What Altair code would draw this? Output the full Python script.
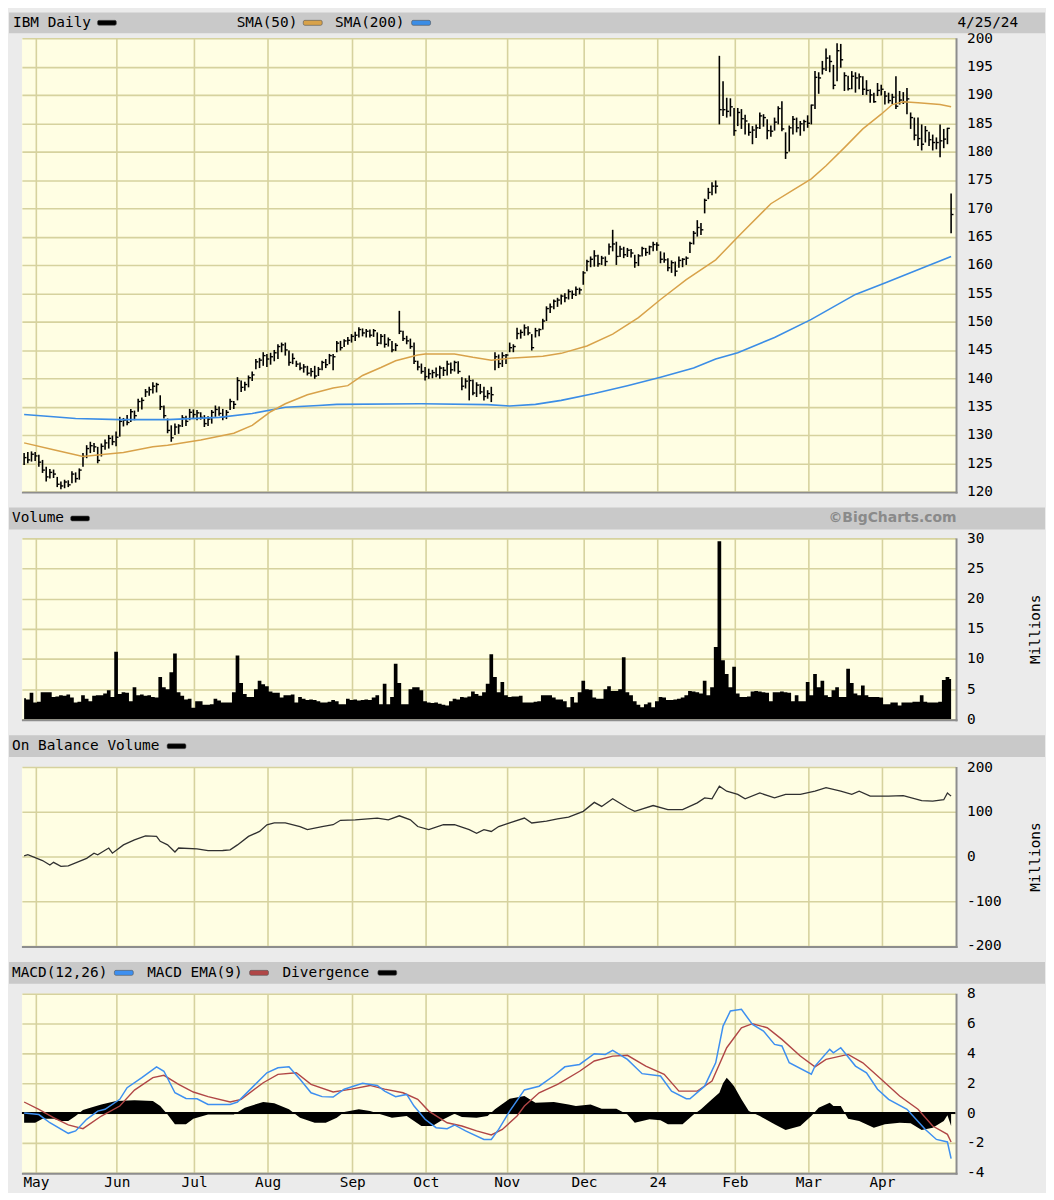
import altair as alt
import pandas as pd

# ------------------------------------------------------------------ data
month_start = [4, 26, 47, 67, 90, 110, 132, 153, 173, 194, 214, 234]
month_names = ["May", "Jun", "Jul", "Aug", "Sep", "Oct", "Nov", "Dec", "24", "Feb", "Mar", "Apr"]

high = [126.8,127.0,127.1,127.0,126.5,125.6,124.4,124.0,123.9,122.6,121.8,122.1,122.0,123.6,123.4,124.1,126.8,128.2,128.8,128.6,127.9,128.5,129.2,130.0,129.9,130.6,
        133.2,133.0,133.5,134.6,134.3,136.4,136.6,138.1,138.5,139.3,139.2,137.0,135.2,132.9,131.7,132.0,131.9,133.5,133.4,134.6,134.5,
        134.4,134.0,133.5,133.3,134.4,135.2,135.0,134.6,134.4,136.4,136.0,140.2,139.6,139.4,140.5,141.2,143.4,143.6,144.6,144.3,
        144.5,145.0,146.0,146.3,146.3,144.9,144.4,143.1,142.8,142.5,142.2,141.8,142.2,142.0,143.1,143.4,144.3,144.3,146.6,146.6,146.9,147.3,147.8,
        148.2,149.0,148.8,148.7,148.6,148.7,148.1,147.8,147.8,147.2,146.6,146.2,151.9,148.4,147.5,147.0,146.3,143.1,142.6,142.0,
        141.7,141.5,141.9,142.2,142.0,143.1,142.8,143.1,143.0,140.2,140.0,140.5,139.8,139.3,139.0,138.5,137.9,138.5,144.6,144.2,144.6,144.3,
        146.3,146.0,148.9,148.6,149.5,149.2,147.8,148.9,148.8,150.5,152.7,153.2,153.9,154.2,154.8,155.0,155.7,155.5,156.2,156.0,158.9,
        160.9,161.5,162.6,161.8,161.6,161.5,163.8,166.2,164.1,163.4,163.2,163.0,162.8,161.8,161.9,163.2,163.0,163.4,164.1,164.0,
        162.4,162.2,161.2,160.8,160.6,161.5,161.2,161.5,164.1,166.0,167.9,167.4,171.7,173.6,174.6,174.9,196.9,192.4,189.5,189.4,187.7,
        187.7,187.5,186.5,185.0,184.5,184.8,186.9,186.6,185.7,184.6,186.0,188.0,188.9,183.4,184.6,186.3,186.0,185.4,185.6,186.4,
        188.3,194.2,194.0,196.0,198.2,197.0,195.3,199.1,199.0,194.0,193.4,194.2,194.0,193.8,193.3,192.6,191.0,190.4,192.1,191.8,
        190.7,190.4,190.2,193.3,190.7,190.5,191.2,186.9,186.0,186.0,184.8,184.5,183.5,183.0,182.5,184.8,184.0,184.2,172.6]

low = [124.7,125.0,125.3,125.4,124.4,123.3,121.8,122.3,122.4,120.8,120.4,120.6,120.8,121.5,121.6,122.1,124.4,125.9,126.8,127.0,125.0,126.2,127.4,127.6,128.2,128.0,
       129.7,131.5,131.7,132.3,132.6,134.1,134.5,136.7,136.9,137.3,137.5,134.4,132.9,130.3,128.8,130.0,130.2,131.4,131.6,132.6,132.8,
       132.6,132.7,131.4,131.6,132.0,133.2,133.4,132.6,132.8,134.4,134.6,136.1,137.6,137.8,138.4,139.5,141.6,141.8,142.2,142.0,
       142.4,143.0,143.4,144.6,144.0,142.2,142.5,142.0,141.4,141.0,140.5,140.3,139.9,140.4,141.4,141.8,142.5,141.4,144.6,144.9,145.5,145.9,146.3,
       146.6,147.2,147.4,147.2,147.2,147.3,145.7,146.0,145.4,145.6,144.6,144.8,147.8,146.6,146.0,145.2,142.5,141.4,140.8,139.6,
       139.9,140.0,140.2,139.9,140.4,140.5,140.8,141.2,140.8,137.9,138.2,136.1,137.0,136.7,137.2,136.1,136.4,135.8,141.4,141.8,142.0,142.5,
       144.6,144.6,146.9,147.0,147.5,147.6,144.9,147.2,147.4,148.6,150.1,151.5,152.2,152.6,153.0,153.4,153.9,154.0,154.5,154.8,156.5,
       158.9,159.6,159.7,159.7,160.0,159.8,161.8,162.4,160.0,161.4,161.2,161.4,161.3,159.5,159.8,161.5,161.6,161.8,162.4,162.5,
       160.3,160.4,158.9,158.6,158.0,159.5,159.6,160.0,162.1,163.6,165.0,165.3,169.1,171.6,172.3,172.6,184.8,186.3,186.0,186.2,182.8,
       184.5,184.0,183.0,182.8,181.3,182.4,184.0,184.4,182.2,182.6,183.7,184.8,183.6,178.7,180.0,183.0,183.4,182.8,183.6,184.2,
       184.8,187.5,190.2,193.6,194.2,194.0,191.0,192.4,194.8,190.7,190.8,191.0,190.4,191.0,190.0,190.0,188.6,188.6,189.8,189.9,
       188.3,188.5,188.4,187.5,188.3,188.4,186.6,184.0,182.0,181.0,180.2,181.6,181.0,180.2,180.4,179.0,180.6,181.3,165.6]

close = [126.0,125.6,126.6,126.3,125.2,123.8,122.6,123.4,123.1,121.3,121.0,121.7,121.2,123.1,122.3,123.8,126.2,127.6,128.1,127.9,125.5,128.0,128.6,129.4,128.8,129.6,
         132.4,132.6,132.2,134.1,133.4,135.9,136.1,137.6,138.0,138.6,138.9,135.0,133.4,130.8,129.5,131.4,131.6,133.0,132.4,134.0,133.6,
         133.9,133.1,132.0,132.8,134.0,134.5,133.8,133.2,134.0,135.9,135.4,139.6,138.4,138.9,140.1,140.6,142.9,143.2,144.0,143.4,
         143.8,144.5,145.6,145.9,145.0,142.8,143.5,142.5,141.8,142.0,140.9,141.2,140.4,141.6,142.8,142.4,144.0,143.8,146.2,145.4,146.6,146.7,147.4,
         147.6,148.6,148.0,148.3,147.6,148.4,146.2,147.4,146.0,146.8,145.0,145.8,148.3,147.0,146.6,145.6,143.0,142.0,141.2,140.3,
         140.8,141.0,140.6,141.8,141.4,142.5,141.5,142.8,141.2,138.6,139.5,139.6,137.4,138.8,137.6,136.8,137.3,137.1,143.8,142.6,144.0,144.1,
         145.4,145.6,147.9,148.1,148.9,148.0,145.4,148.4,148.6,150.1,152.3,152.6,153.6,153.8,154.5,154.2,155.3,154.8,155.7,155.6,158.6,
         160.6,161.0,161.6,160.2,161.2,160.6,163.2,163.7,161.5,162.8,161.8,162.6,162.1,160.4,161.6,162.9,162.2,163.2,163.6,163.5,
         161.0,160.9,159.5,160.4,158.9,160.8,161.0,161.2,163.8,165.6,166.6,166.2,171.4,172.8,173.9,173.9,187.4,187.4,187.1,187.9,183.7,
         186.9,185.8,185.4,183.4,183.8,184.2,186.3,186.0,183.7,183.6,185.2,187.6,184.0,179.8,184.2,185.7,184.2,184.9,185.3,185.0,
         188.2,193.1,193.0,194.6,196.5,195.9,191.7,197.8,196.2,193.4,191.1,193.3,193.0,193.2,191.0,190.8,190.0,188.8,190.8,191.0,
         189.8,189.0,189.6,188.0,189.1,188.8,189.3,186.0,182.9,182.3,181.3,183.7,182.1,181.6,181.6,181.9,182.2,184.1,168.9]

volume = [3.5,3.3,4.4,2.8,2.9,4.5,4.5,4.5,3.7,3.8, 4.0,3.9,4.1,3.6,2.8,2.9,4.0,3.4,3.0,3.9,
          4.0,4.0,4.3,4.8,3.7,11.2,4.2,4.5,4.4,3.0, 5.3,4.0,4.1,3.9,4.0,3.7,3.6,7.0,5.3,5.0,
          7.8,10.9,4.5,3.9,3.3,3.4,1.9,3.0,3.0,2.4, 2.4,2.5,3.4,3.1,2.8,2.8,2.8,4.5,10.6,6.0,
          4.2,3.7,3.7,5.0,6.4,5.8,5.5,4.6,4.4,4.4, 3.6,4.0,4.0,4.1,2.8,3.7,3.4,3.2,3.3,3.2,
          3.0,2.8,2.8,2.9,3.2,3.0,2.5,2.5,3.4,3.2, 3.3,3.1,3.2,3.3,3.2,3.6,4.0,2.5,5.9,2.5,
          3.7,9.2,6.0,2.5,2.5,5.0,5.3,5.3,4.8,3.0, 2.8,2.7,2.8,2.6,2.4,2.3,3.0,3.4,3.3,3.7,
          3.6,3.8,4.6,4.2,3.9,4.5,5.9,10.8,7.0,4.5, 6.2,4.0,3.7,3.8,3.8,3.9,
          2.8,2.8,2.8,2.9,3.0,4.0,4.0,4.0,3.6,3.3, 3.3,3.0,2.0,3.7,2.8,4.5,6.4,5.0,4.9,3.6,
          3.4,3.4,5.0,5.5,4.7,4.7,5.0,10.3,4.5,4.0, 3.0,2.4,2.0,2.5,2.8,2.0,3.0,3.7,3.6,3.2,
          3.2,3.3,3.4,3.6,4.0,4.7,4.6,4.5,4.3,6.4, 4.0,5.3,12.0,29.5,9.8,7.5,5.3,8.7,4.3,3.7,
          3.7,3.8,4.6,4.7,4.6,4.5,4.4,3.0,4.5,4.5, 4.6,4.5,4.4,3.0,4.0,3.0,3.0,6.2,4.0,7.5,
          5.3,6.4,4.0,3.7,4.8,5.3,3.7,3.7,8.4,6.0, 4.3,4.0,5.6,4.0,3.7,3.7,3.7,3.6,2.5,2.5,
          2.8,2.8,2.3,2.8,2.8,2.8,2.9,2.9,4.0,2.9, 2.8,2.8,2.8,2.9,6.5,7.0,6.7]

sma50_day = [0, 8, 16, 22, 27, 35, 39, 48, 57, 62, 67, 71, 77, 84, 88, 92, 97, 101, 107, 109, 117, 122, 127,
             133, 141, 146, 153, 160, 167, 173, 180, 188, 195, 203, 209, 214, 218, 223, 228, 233, 236, 239, 243, 249, 252]
sma50 = [128.6, 127.4, 126.2, 126.6, 126.9, 127.9, 128.2, 129.1, 130.3, 131.7, 134.1, 135.5, 137.1, 138.3, 138.7,
         140.5, 141.9, 143.1, 144.1, 144.3, 144.3, 143.7, 143.2, 143.6, 143.9, 144.4, 145.7, 147.8, 150.7, 153.9,
         157.4, 160.9, 165.6, 170.8, 173.2, 175.2, 177.5, 180.7, 184.0, 186.6, 188.3, 188.8, 188.6, 188.3, 187.9]

sma200_day = [0, 8, 14, 26, 39, 53, 62, 71, 80, 85, 108, 126, 132, 139, 146, 155, 164, 173, 182, 188, 194, 204,
              214, 226, 234, 244, 252]
sma200 = [133.6, 133.2, 132.9, 132.7, 132.7, 133.1, 133.8, 134.9, 135.2, 135.4, 135.5, 135.35, 135.1, 135.4, 136.1,
          137.3, 138.7, 140.2, 141.8, 143.4, 144.5, 147.2, 150.4, 154.8, 156.8, 159.4, 161.5]

obv_day = [0,1,5,7,8,10,12,15,17,19, 20,23,24,27,30,33,36,37,39,41, 42,47,50,54,56,58,61,64,66,68,
           71,75,77,81,84,86,90,96,99,102, 105,107,110,114,117,121,123,125,127,129, 132,136,138,142,145,148,152,155,157,160,
           164,166,171,175,179,183,185,187,189,191, 194,196,200,204,207,211,215,218,222,225, 227,230,235,239,244,247,250,251,252]
obv = [1.5,4,-9,-19,-13,-22,-21,-11,-4,7.5, 4,19,7.5,26,37,46,45,34,26,10, 19,17,13,13.5,15,26,45,56,71,75,
       75,67,60,67,71,81,82,86,82,91, 82,67,60,71,71,60,52,60,56,67, 75,86,75,79,84,88,101,121,112,129,
       109,101,114,105,105,120,131,129,157,146, 139,129,142,131,139,139,146,154,146,139, 146,135,135,136,125,124,127,142,135]

macd_day = [0,4,7,12,14,17,20,22,26,28, 32,36,38,41,44,47,50,56,58,61, 66,69,72,75,78,81,84,87,92,96,
            98,101,104,106,109,112,115,117,120,125, 127,129,132,136,140,144,147,151,155,158, 160,164,168,173,176,180,181,185,188,190,
            192,195,198,201,204,206,208,214,215,219, 220,222,226,229,232,235,240,245,248,251, 252]
macd = [0.0,-0.1,-0.65,-1.36,-1.2,-0.42,0.13,0.25,0.92,1.7, 2.37,3.1,2.8,1.36,0.98,0.96,0.58,0.58,0.74,1.47,
        2.7,3.04,3.1,2.26,1.36,1.1,1.07,1.6,2.0,1.85, 1.47,1.1,1.25,0.47,-0.42,-0.98,-1.05,-0.8,-1.2,-1.77,
        -1.77,-1.1,0.13,1.55,1.8,2.5,3.1,3.26,3.98,3.93, 4.2,3.6,2.64,2.48,1.47,0.96,0.96,1.8,3.37,5.83,
        6.84,6.95,5.94,5.5,4.6,4.5,3.37,2.6,3.15,4.27, 4.04,4.38,3.15,2.7,1.6,0.92,0.25,-1.1,-1.77,-1.94, -3.06]

ema_day = [0,4,8,12,16,21,26,30,35,38, 42,46,50,56,59,65,69,74,78,84, 89,94,98,103,107,110,115,119,123,127,
           130,134,136,140,145,151,155,160,164,169, 174,178,183,187,191,195,198,202,206,211, 215,218,224,228,233,238,243,247,251,252]
ema = [0.74,0.25,-0.31,-0.8,-1.05,-0.2,0.47,1.54,2.37,2.53, 1.92,1.41,1.1,0.74,0.92,2.03,2.59,2.7,1.92,1.41,
       1.6,1.85,1.6,1.36,0.92,0.13,-0.65,-0.87,-1.2,-1.47, -1.1,-0.2,0.47,1.36,1.92,2.8,3.49,3.82,3.87,3.15,
       2.6,1.47,1.47,2.15,4.38,5.72,5.99,5.72,4.94,3.82, 3.1,3.6,3.93,3.37,2.26,1.14,0.25,-0.87,-1.43,-1.94]

div_day = [0,3,5,8,10,12,14,16,18,21, 25,30,35,37,39,41,44,46,50,57, 60,65,68,72,75,79,82,85,87,91,
           94,96,100,104,106,108,111,114,117,119, 123,126,128,132,136,139,144,148,150,154, 157,161,164,166,170,173,175,179,182,184,
           187,189,190,191,192,193,195,197,200,204, 207,211,214,216,219,220,222,224,227,231, 234,238,241,244,247,250,251,252]
div = [-0.65,-0.65,-0.38,-0.38,-0.54,-0.54,-0.2,0.2,0.36,0.58, 0.8,0.85,0.8,0.47,-0.1,-0.76,-0.76,-0.38,-0.1,-0.1,
       0.36,0.74,0.65,0.25,-0.31,-0.65,-0.65,-0.31,0.07,0.25, 0.13,-0.02,-0.31,-0.2,-0.54,-0.87,-0.87,-0.42,-0.05,-0.27,
       -0.31,-0.2,0.25,0.96,1.15,0.69,0.74,0.58,0.47,0.58, 0.29,0.29,-0.1,-0.65,-0.42,-0.49,-0.76,-0.76,-0.1,0.25,
       0.92,1.36,2.0,2.37,2.1,1.8,0.92,0.13,-0.2,-0.76, -1.14,-0.87,-0.2,0.36,0.69,0.47,0.47,-0.38,-0.54,-0.98,
       -0.76,-0.65,-0.69,-1.14,-0.98,-0.54,-0.15,-0.87]

# ------------------------------------------------------------------ style
FONT = "DejaVu Sans Mono"
FS = 14.5
GRID = "#d6d29e"
BG = "#ebebeb"
HDR = "#c9c9c9"
PLOT = "#fffee3"
SHADOW = "#8d8d8d"
C_SMA50 = "#d8a24a"
C_SMA200 = "#3b8de6"
C_MACD = "#3d8ff0"
C_EMA = "#b04646"

W = 939
HA, HB, HC, HD = 456, 182, 180, 180
XDOM = [-0.6, 253.2]

days = list(range(len(close)))
price_df = pd.DataFrame({"d": days, "hi": high, "lo": low, "cl": close})
vol_df = pd.DataFrame({"d": days, "v": volume})
s50_df = pd.DataFrame({"d": sma50_day, "v": sma50})
s200_df = pd.DataFrame({"d": sma200_day, "v": sma200})
obv_df = pd.DataFrame({"d": obv_day, "v": obv})
macd_df = pd.DataFrame({"d": macd_day, "v": macd})
ema_df = pd.DataFrame({"d": ema_day, "v": ema})
div_df = pd.DataFrame({"d": div_day, "v": div})
zero_df = pd.DataFrame({"d": [XDOM[0], XDOM[1]], "zero": [0, 0]})
dummy = pd.DataFrame({"z": [0]})

grid_pos = [round(m - 0.8, 1) for m in month_start]
names_js = "[" + ",".join("'" + n + "'" for n in month_names) + "]"
pos_js = "[" + ",".join(str(p) for p in grid_pos) + "]"
label_expr = names_js + "[indexof(" + pos_js + ", datum.value)]"

xscale = alt.Scale(domain=XDOM, nice=False, zero=False)


def x_axis(show_labels=False):
    ax = dict(values=grid_pos, grid=True, ticks=False, domain=False, title=None,
              labels=show_labels, labelFlush=False, labelOverlap=False)
    if show_labels:
        ax.update(labelExpr=label_expr, labelPadding=3)
    return alt.Axis(**ax)


def y_axis(values, h, title=""):
    ax = dict(orient="right", values=values, grid=True, ticks=False, tickSize=0, domain=False,
              labelPadding=11, labelExpr="'' + datum.value", labelOverlap=False, labelFlush=False,
              labelAlign="left")
    if title:
        ax.update(title=title, titleX=80, titleY=h / 2, titleAngle=270, titleFont=FONT,
                  titleFontSize=FS, titleFontWeight="normal", titleColor="black",
                  titleAlign="center", titleBaseline="middle")
    else:
        ax.update(title=None)
    return alt.Axis(**ax)


def hrect(y0, y1):
    return alt.Chart(dummy).mark_rect(color=HDR).encode(
        x=alt.value(-13), x2=alt.value(1029), y=alt.value(y0), y2=alt.value(y1))


def htext(txt, x, y, align="left", font=FONT, size=FS, weight="normal", color="black"):
    return alt.Chart(dummy).mark_text(align=align, baseline="middle", font=font, fontSize=size,
                                      fontWeight=weight, color=color).encode(
        x=alt.value(x), y=alt.value(y), text=alt.value(txt))


def swatch(x, y, color):
    return alt.Chart(dummy).mark_rect(color=color, cornerRadius=1.5, stroke="#555555",
                                      strokeWidth=0.6).encode(
        x=alt.value(x), x2=alt.value(x + 19), y=alt.value(y - 2.5), y2=alt.value(y + 2.5))


def shadow(h):
    r = alt.Chart(dummy).mark_rule(color=SHADOW, strokeWidth=2)
    return [r.encode(x=alt.value(W + 1), y=alt.value(0), y2=alt.value(h + 2)),
            r.encode(x=alt.value(0), x2=alt.value(W + 2), y=alt.value(h + 1))]


# ------------------------------------------------------------------ price panel
p_scale = alt.Scale(domain=[120, 200], nice=False, zero=False)
xA = alt.X("d:Q", scale=xscale, axis=x_axis())
yA_ax = y_axis(list(range(120, 201, 5)), HA)
yA = -15.5
price_layers = [
    hrect(-26, -5),
    htext("IBM Daily", -9, yA), swatch(76, yA, "black"),
    htext("SMA(50)", 216, yA), swatch(283, yA, C_SMA50),
    htext("SMA(200)", 315, yA), swatch(392, yA, C_SMA200),
    htext("4/25/24", 1002, yA, align="right"),
    alt.Chart(price_df).mark_rule(color="black", strokeWidth=1.6).encode(
        x=xA, y=alt.Y("hi:Q", scale=p_scale, axis=yA_ax), y2="lo:Q"),
    alt.Chart(price_df).transform_calculate(d2="datum.d + 0.65").mark_rule(
        color="black", strokeWidth=1.4).encode(
        x=xA, x2="d2:Q", y=alt.Y("cl:Q", scale=p_scale, axis=yA_ax)),
    alt.Chart(s200_df).mark_line(color=C_SMA200, strokeWidth=1.6).encode(
        x=xA, y=alt.Y("v:Q", scale=p_scale, axis=yA_ax)),
    alt.Chart(s50_df).mark_line(color=C_SMA50, strokeWidth=1.5).encode(
        x=xA, y=alt.Y("v:Q", scale=p_scale, axis=yA_ax)),
] + shadow(HA)
panelA = alt.layer(*price_layers).properties(width=W, height=HA)

# ------------------------------------------------------------------ volume panel
v_scale = alt.Scale(domain=[0, 30], nice=False, zero=False)
yB = -20
vol_layers = [
    hrect(-31, -9),
    htext("Volume", -10, yB), swatch(49, yB, "black"),
    htext("\u00a9BigCharts.com", 940, yB, align="right", font="DejaVu Sans", size=14,
          weight="bold", color="#8a8a8a"),
    alt.Chart(vol_df).mark_area(color="black", interpolate="step").encode(
        x=alt.X("d:Q", scale=xscale, axis=x_axis()),
        y=alt.Y("v:Q", scale=v_scale, axis=y_axis(list(range(0, 31, 5)), HB, "Millions"))),
] + shadow(HB)
panelB = alt.layer(*vol_layers).properties(width=W, height=HB)

# ------------------------------------------------------------------ OBV panel
o_scale = alt.Scale(domain=[-200, 200], nice=False, zero=False)
yC = -21
obv_layers = [
    hrect(-32, -10),
    htext("On Balance Volume", -10, yC), swatch(146, yC, "black"),
    alt.Chart(obv_df).mark_line(color="#303030", strokeWidth=1.3).encode(
        x=alt.X("d:Q", scale=xscale, axis=x_axis()),
        y=alt.Y("v:Q", scale=o_scale, axis=y_axis(list(range(-200, 201, 100)), HC, "Millions"))),
] + shadow(HC)
panelC = alt.layer(*obv_layers).properties(width=W, height=HC)

# ------------------------------------------------------------------ MACD panel
m_scale = alt.Scale(domain=[-4, 8], nice=False, zero=False)
xD = alt.X("d:Q", scale=xscale, axis=x_axis(True))
yD_ax = y_axis(list(range(-4, 9, 2)), HD)
yD = -21
macd_layers = [
    hrect(-32, -10),
    htext("MACD(12,26)", -10, yD), swatch(93, yD, C_MACD),
    htext("MACD EMA(9)", 126, yD), swatch(229, yD, C_EMA),
    htext("Divergence", 262, yD), swatch(358, yD, "black"),
    alt.Chart(div_df).mark_area(color="black").encode(
        x=xD, y=alt.Y("v:Q", scale=m_scale, axis=yD_ax), y2=alt.datum(0)),
    alt.Chart(zero_df).mark_line(color="black", strokeWidth=2).encode(
        x=xD, y=alt.Y("zero:Q", scale=m_scale, axis=yD_ax)),
    alt.Chart(ema_df).mark_line(color=C_EMA, strokeWidth=1.4).encode(
        x=xD, y=alt.Y("v:Q", scale=m_scale, axis=yD_ax)),
    alt.Chart(macd_df).mark_line(color=C_MACD, strokeWidth=1.5).encode(
        x=xD, y=alt.Y("v:Q", scale=m_scale, axis=yD_ax)),
] + shadow(HD)
panelD = alt.layer(*macd_layers).properties(width=W, height=HD)

chart = alt.vconcat(panelA, panelB, panelC, panelD, spacing=8).properties(
    padding=0, background=BG
).configure_view(fill=PLOT, stroke=PLOT).configure_axis(
    labelFont=FONT, labelFontSize=FS, labelColor="black",
    gridColor=GRID, gridWidth=1.6, gridOpacity=1
)

chart.save("out.html", embed_options={"renderer": "svg", "actions": False})
